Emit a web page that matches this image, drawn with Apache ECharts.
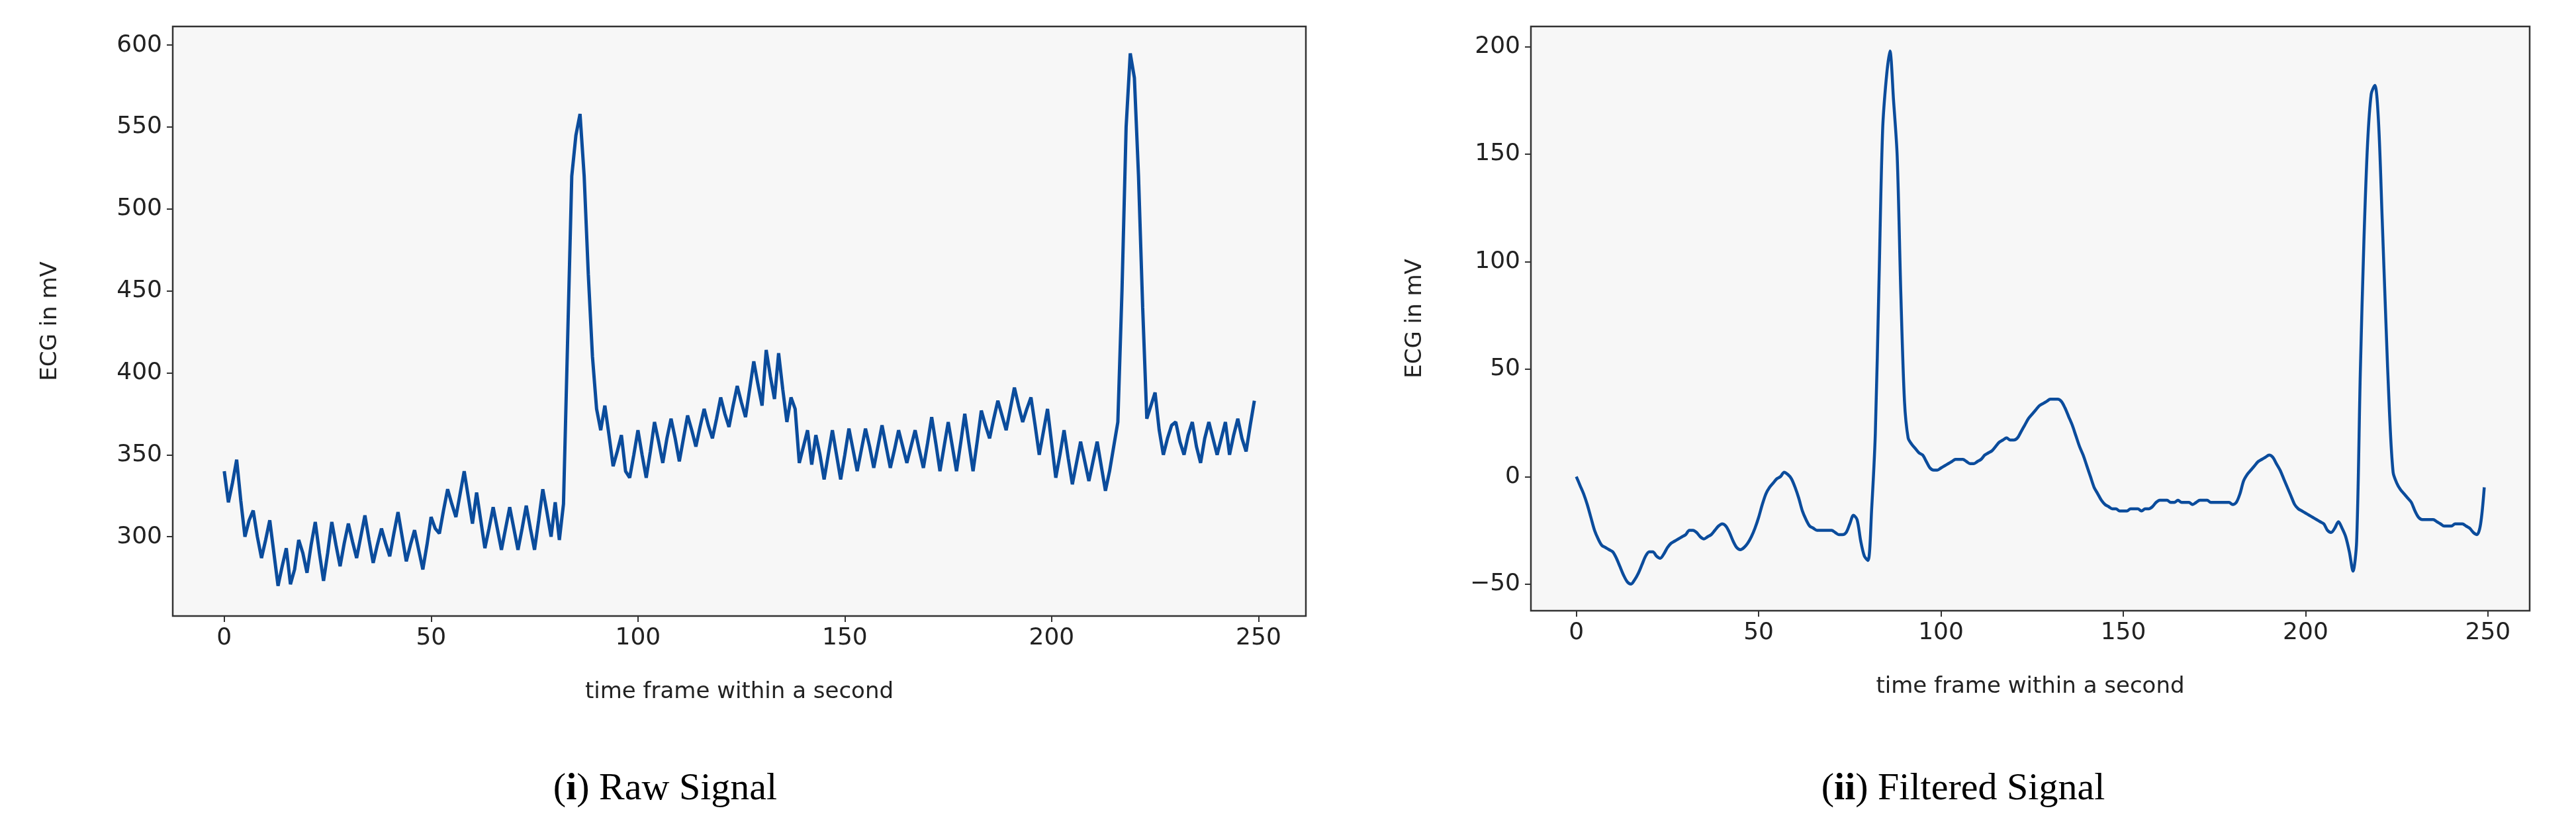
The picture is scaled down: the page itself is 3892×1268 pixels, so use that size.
<!DOCTYPE html>
<html><head><meta charset="utf-8">
<script src="https://cdn.jsdelivr.net/npm/echarts@6/dist/echarts.min.js"></script>
<style>html,body{margin:0;padding:0;background:#fff}#c{width:3892px;height:1268px}</style>
</head><body><div id="c"></div>
<script>
const rawSignal = [
340,321,333,347,322,300,310,316,300,287,
298,310,290,270,282,293,271,280,298,290,
278,295,309,290,273,290,309,295,282,296,
308,297,287,300,313,298,284,295,305,296,
288,302,315,300,285,295,304,292,280,295,
312,305,302,316,329,320,312,326,340,324,
308,327,310,293,305,318,305,292,305,318,
305,292,305,319,305,292,310,329,315,300,
321,298,320,420,520,545,558,520,460,410,
378,365,380,362,343,352,362,340,336,350,
365,350,336,352,370,358,345,360,372,360,
346,360,374,365,355,367,378,368,360,372,
385,375,367,380,392,382,373,390,407,393,
380,414,398,384,412,390,370,385,378,345,
355,365,344,362,350,335,350,365,350,335,
350,366,353,340,353,366,
355,342,355,368,355,342,353,365,355,345,
355,365,353,342,357,373,357,340,355,370,
355,340,357,375,357,340,358,377,368,360,
372,383,374,365,378,391,380,370,378,385,
368,350,364,378,357,336,350,365,348,332,
345,358,346,334,346,358,343,328,
340,355,370,450,550,595,580,520,440,
372,380,388,365,350,360,368,370,358,350,362,370,355,345,360,370,360,350,360,370,350,362,372,360,352,368,383
];
const filteredSignal = [
0,-4,-8,-13,-19,-25,-29,-32,-33,-34,
-35,-38,-42,-46,-49,-50,-48,-45,-41,-37,
-35,-35,-37,-38,-36,-33,-31,-30,-29,-28,
-27,-25,-25,-26,-28,-29,-28,-27,-25,-23,
-22,-23,-26,-30,-33,-34,-33,-31,-28,-24,
-19,-13,-8,-5,-3,-1,0,2,1,-1,
-5,-10,-16,-20,-23,-24,-25,-25,-25,-25,
-25,-26,-27,-27,-26,-22,-18,-20,-30,-37,
-39,-15,20,90,161,185,198,175,149,85,
35,18,15,13,11,10,7,4,3,3,
4,5,6,7,8,8,8,7,6,6,
7,8,10,11,12,14,16,17,18,17,
17,18,21,24,27,29,31,33,34,35,
36,36,36,35,32,28,24,19,14,10,
5,0,-5,-8,-11,-13,-14,-15,-15,-16,
-16,-16,-15,-15,-15,-16,-15,-15,-14,-12,
-11,-11,-11,-12,-12,-11,-12,-12,-12,-13,
-12,-11,-11,-11,-12,-12,-12,-12,-12,-12,
-13,-12,-8,-2,1,3,5,7,8,9,
10,9,6,3,-1,-5,-9,-13,-15,-16,
-17,-18,-19,-20,-21,-22,-25,-26,-24,-21,
-24,-28,-35,-44,-30,48,110,155,178,182,
165,120,73,30,2,-3,-6,-8,-10,-12,
-16,-19,-20,-20,-20,-20,-21,-22,-23,-23,
-23,-22,-22,-22,-23,-24,-26,-27,-22,-5
];
const xTicks = [0,50,100,150,200,250];
const rawTicks = [300,350,400,450,500,550,600];
const filtTicks = [-50,0,50,100,150,200];
const xName = 'time frame within a second';
const yName = 'ECG in mV';
const captions = [['i','Raw Signal'],['ii','Filtered Signal']];

const lineColor = '#0b4c9c';
const font = 'DejaVu Sans';
function fmt(v){ return String(v).replace('-', '\u2212'); }
function xAxis(gi){ return {type:'value', gridIndex:gi, min:-12.45, max:261.45,
  name:xName, nameLocation:'middle', nameGap:98, nameTextStyle:{fontFamily:font,fontSize:34,color:'#222'},
  axisLine:{show:false, onZero:false}, splitLine:{show:false},
  axisTick:{show:true, length:9, customValues:xTicks, lineStyle:{color:'#333',width:2}},
  axisLabel:{customValues:xTicks, fontFamily:font, fontSize:36, color:'#222', margin:16, formatter:fmt}}; }
function yAxis(gi,min,max,ticks,gap){ return {type:'value', gridIndex:gi, min:min, max:max,
  name:yName, nameLocation:'middle', nameGap:gap, nameTextStyle:{fontFamily:font,fontSize:34,color:'#222'},
  axisLine:{show:false, onZero:false}, splitLine:{show:false},
  axisTick:{show:true, length:9, customValues:ticks, lineStyle:{color:'#333',width:2}},
  axisLabel:{customValues:ticks, fontFamily:font, fontSize:36, color:'#222', margin:16, formatter:fmt}}; }
const gridStyle = {show:true, backgroundColor:'#f7f7f7', borderColor:'#333', borderWidth:2.5};
const chart = echarts.init(document.getElementById('c'), null, {renderer:'canvas'});
const capStyle = (c)=>({text:'({b|'+c[0]+'}) '+c[1], align:'center', verticalAlign:'middle', font:'58px "Liberation Serif"', fill:'#000', rich:{b:{fontWeight:'bold', fontSize:58, fontFamily:'Liberation Serif'}}});
chart.setOption({
  animation:false, backgroundColor:'#fff',
  grid:[Object.assign({left:261, top:40, width:1712, height:891}, gridStyle),
        Object.assign({left:2313, top:40, width:1509, height:883}, gridStyle)],
  xAxis:[xAxis(0), xAxis(1)],
  yAxis:[yAxis(0,251.6,611.4,rawTicks,168), yAxis(1,-62.4,209.4,filtTicks,158)],
  series:[
    {type:'line', xAxisIndex:0, yAxisIndex:0, showSymbol:false, data:rawSignal.map((v,i)=>[i,v]), lineStyle:{color:lineColor,width:5}},
    {type:'line', xAxisIndex:1, yAxisIndex:1, showSymbol:false, smooth:0.3, data:filteredSignal.map((v,i)=>[i,v]), lineStyle:{color:lineColor,width:4.5}}
  ],
  graphic:[
    {type:'text', x:1005, y:1193, style:capStyle(captions[0])},
    {type:'text', x:2966, y:1193, style:capStyle(captions[1])}
  ]
});
</script></body></html>
